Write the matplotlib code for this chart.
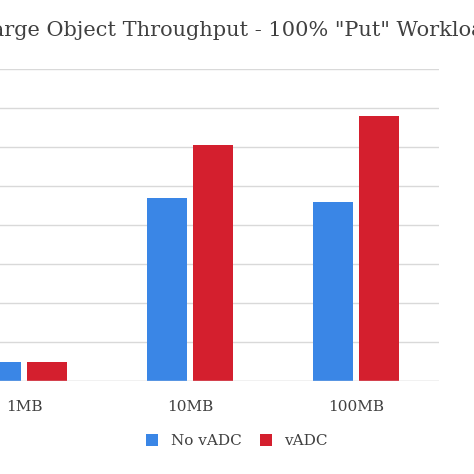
import numpy as np
import matplotlib.pyplot as plt

categories = ["1MB", "10MB", "100MB"]
no_vadc = [0.5, 4.7, 4.6]
vadc = [0.5, 6.05, 6.8]

W, H = 474, 474
fig = plt.figure(figsize=(W / 100, H / 100), dpi=100)
# axes deliberately extends past the left edge (reference is cropped)
left, right, top, bottom = -59, 439, 69, 381
ax = fig.add_axes([left / W, 1 - bottom / H, (right - left) / W, (bottom - top) / H])

x = np.arange(len(categories))
bw = 0.24
ax.bar(x - bw / 2 - 0.018, no_vadc, bw, color="#3a86e6", label="No vADC")
ax.bar(x + bw / 2 + 0.018, vadc, bw, color="#d41f2e", label="vADC")

ax.set_xlim(-0.5, 2.5)
ax.set_ylim(0, 8)
ax.set_yticks(np.arange(0, 9, 1))
ax.set_yticklabels([])
ax.tick_params(length=0)
ax.grid(axis="y", color="#d9d9d9", linewidth=1)
ax.set_axisbelow(True)
for s in ax.spines.values():
    s.set_visible(False)
ax.axhline(0, color="#d9d9d9", linewidth=1)
ax.set_xticks(x)
ax.set_xticklabels(categories, fontsize=11, family="DejaVu Serif", color="#404040")
ax.tick_params(axis="x", pad=14)

fig.text(0.5, 1 - 30 / H, 'Large Object Throughput - 100% "Put" Workload',
         ha="center", va="center", fontsize=15, color="#404040", family="DejaVu Serif")
fig.legend(loc="center", bbox_to_anchor=(0.5, 1 - 441 / H), ncol=2, frameon=False,
           prop={"family": "DejaVu Serif", "size": 11}, handlelength=0.8,
           handleheight=0.8, columnspacing=1.2, labelcolor="#404040")

fig.savefig("out.png", dpi=100)
